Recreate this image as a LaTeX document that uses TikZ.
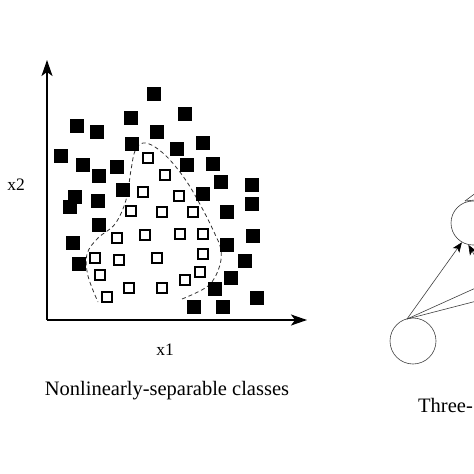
\documentclass[tikz,border=0pt]{standalone}
\usepackage{fontspec}
\setmainfont{Liberation Serif}
\usetikzlibrary{arrows.meta}
\begin{document}
\begin{tikzpicture}[x=1pt,y=-1pt,
  filled/.style={draw=black,fill=black,minimum size=13pt,inner sep=0pt,outer sep=0pt},
  hollow/.style={draw=black,fill=white,line width=1.8pt,minimum size=10.5pt,inner sep=0pt},
  axis/.style={line width=1.5pt,-{Stealth[length=16pt,width=11pt,inset=4pt]}},
  boundary/.style={line width=0.8pt,draw=black!80,dash pattern=on 4pt off 3pt},
  neuron/.style={circle,draw=black!75,line width=0.6pt,inner sep=0pt},
  link/.style={draw=black!75,line width=0.6pt},
  linkarrow/.style={link,-{Stealth[length=10pt,width=8pt,inset=2.5pt,black]}},
  caption/.style={font=\fontsize{20.5pt}{24pt}\selectfont,inner sep=0pt},
  axlabel/.style={font=\fontsize{17.5pt}{20pt}\selectfont,inner sep=0pt}]
\clip (0,0) rectangle (474,474);
\useasboundingbox (0,0) rectangle (474,474);
\fill[white] (0,0) rectangle (474,474);

% axes
\coordinate (O) at (47,320);
\coordinate (ytip) at (47,60);
\coordinate (xtip) at (307,320);
\draw[axis] (O) -- (ytip);
\draw[axis] (O) -- (xtip);
\node[axlabel,anchor=base] (x1) at (165,355) {x1};
\node[axlabel,anchor=base] (x2) at (16,190) {x2};

% dashed class boundary
\draw[boundary] plot[smooth,tension=0.6] coordinates {
  (182,299) (208,286) (219,268) (221,250) (214,232) (202,208) (187,182)
  (170,160) (155,147) (143,143) (135,151) (131,170) (126,200) (115,224)
  (98,238) (87,254) (88,276) (98,302)};

% filled squares
\foreach \x/\y [count=\i] in {154/94,131/118,185/114,77/126,97/132,157/132,
  132/144,203/143,177/149,61/156,83/165,117/167,187/165,213/164,99/176,
  221/182,252/185,75/197,70/207,98/201,123/190,203/194,252/204,227/212,
  99/225,73/243,253/236,227/245,79/264,245/261,231/278,215/289,257/298,
  194/307,223/307}
  \node[filled] (f\i) at (\x,\y) {};

% open squares
\foreach \x/\y [count=\i] in {148/158,165/175,143/192,179/196,131/211,
  162/212,193/212,117/238,145/235,180/234,203/234,95/258,119/260,157/258,
  203/254,100/275,200/272,185/280,129/288,162/288,107/297}
  \node[hollow] (o\i) at (\x,\y) {};

\node[caption,anchor=base] (cap1) at (167,395) {Nonlinearly-separable classes};

% network fragment
\node[neuron,minimum size=46pt] (in) at (413,341) {};
\node[neuron,minimum size=44pt] (hid) at (473,223) {};
\coordinate (hub) at (407,319);
\coordinate (r1) at (500,277);
\coordinate (r2) at (500,295);
\coordinate (r3) at (482,268);
\coordinate (t1) at (485,186);
\coordinate (t2) at (485,199);
\coordinate (htop) at (465,201);
\draw[link] (hub) -- (r1);
\draw[link] (hub) -- (r2);
\draw[linkarrow] (hub) -- (hid.240);
\draw[linkarrow] (r3) -- (hid.258);
\draw[link] (htop) -- (t1);
\draw[link] (htop) -- (t2);
\node[caption,anchor=base west] (cap2) at (418,412) {Three-};
\end{tikzpicture}
\end{document}
